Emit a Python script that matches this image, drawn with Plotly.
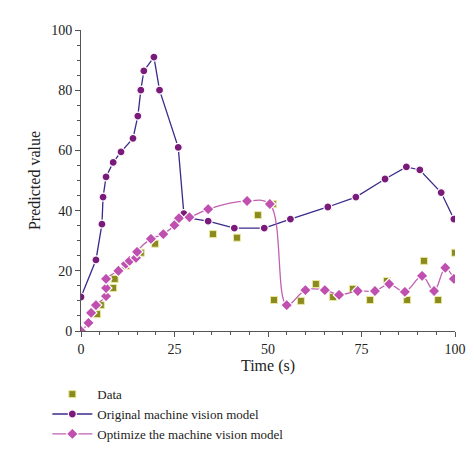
import plotly.graph_objects as go

orig_x = [0, 4, 5.6, 5.9, 6.7, 8.6, 10.7, 13.9, 15.2, 16, 16.8, 19.5, 21, 26, 27.5, 29, 34, 41, 49, 56, 66, 73.5, 81.3, 87, 90.6, 96.3, 99.7]
orig_y = [11.3, 23.6, 35.5, 44.5, 51.2, 56, 59.5, 64, 71.4, 80, 86.4, 91, 80, 61, 39, 37.5, 36.5, 34.2, 34.2, 37.2, 41.2, 44.5, 50.5, 54.5, 53.5, 46, 37.2]

opt_x = [0, 2, 2.7, 4, 6.7, 6.7, 6.7, 10, 12, 13, 14.7, 15, 18.7, 22, 25, 26.2, 29, 34, 44.4, 50.5, 55, 60, 65.2, 69, 74, 78.6, 82.4, 86.6, 91.2, 94.4, 97.4, 99.7]
opt_y = [0, 2.7, 6, 8.6, 11.6, 14.3, 17.3, 20, 22.3, 23.3, 24.3, 26.3, 30.6, 32.2, 35.2, 37.5, 37.8, 40.5, 43.2, 42.2, 8.6, 13.6, 13.6, 12, 13.3, 13.3, 15.6, 13, 18.3, 13.3, 21, 17.3]

data_x = [4.3, 5.3, 8.6, 9, 12, 16, 19.8, 35.3, 41.7, 47.3, 51.3, 51.6, 58.8, 62.8, 67.4, 72.7, 77.3, 81.8, 87.2, 91.7, 95.5, 100]
data_y = [5.6, 8.6, 14.3, 17.3, 21.6, 26, 29, 32.2, 31, 38.5, 42.2, 10.3, 10, 15.6, 11.3, 14, 10.3, 16.6, 10.3, 23.3, 10.3, 26]

fig = go.Figure()
fig.add_trace(go.Scatter(x=data_x, y=data_y, mode="markers", name="Data",
                         marker=dict(symbol="square", size=7, color="#8a8a1e",
                                     line=dict(color="#e8e8a0", width=1))))
fig.add_trace(go.Scatter(x=orig_x, y=orig_y, mode="lines+markers", name="Original machine vision model",
                         line=dict(color="#3a2a8a", width=1.3),
                         marker=dict(symbol="circle", size=8, color="#7a1a7a",
                                     line=dict(color="white", width=1.2))))
fig.add_trace(go.Scatter(x=opt_x, y=opt_y, mode="lines+markers", name="Optimize the machine vision model",
                         line=dict(color="#c060b0", width=1.3, shape="spline"),
                         marker=dict(symbol="diamond", size=9, color="#c050b0",
                                     line=dict(color="white", width=1.2))))

axis = dict(showline=True, linecolor="#555", ticks="outside", ticklen=5, tickcolor="#555",
            showgrid=False, zeroline=False, mirror=False, tickfont=dict(size=14),
            minor=dict(ticks="outside", ticklen=3, tickcolor="#555"))
fig.update_xaxes(axis, range=[0, 100], dtick=25, title=dict(text="Time (s)", standoff=4))
fig.update_yaxes(axis, range=[0, 100], dtick=20, title=dict(text="Predicted value", standoff=6))
fig.update_layout(width=474, height=459, plot_bgcolor="white", paper_bgcolor="white",
                  margin=dict(l=73, r=27, t=22, b=136),
                  font=dict(family="Liberation Serif", size=13, color="#222"),
                  legend=dict(x=-0.09, y=-0.16, xanchor="left", yanchor="top",
                              bgcolor="rgba(0,0,0,0)", tracegroupgap=0, itemwidth=40))
fig.write_html("out.html")
